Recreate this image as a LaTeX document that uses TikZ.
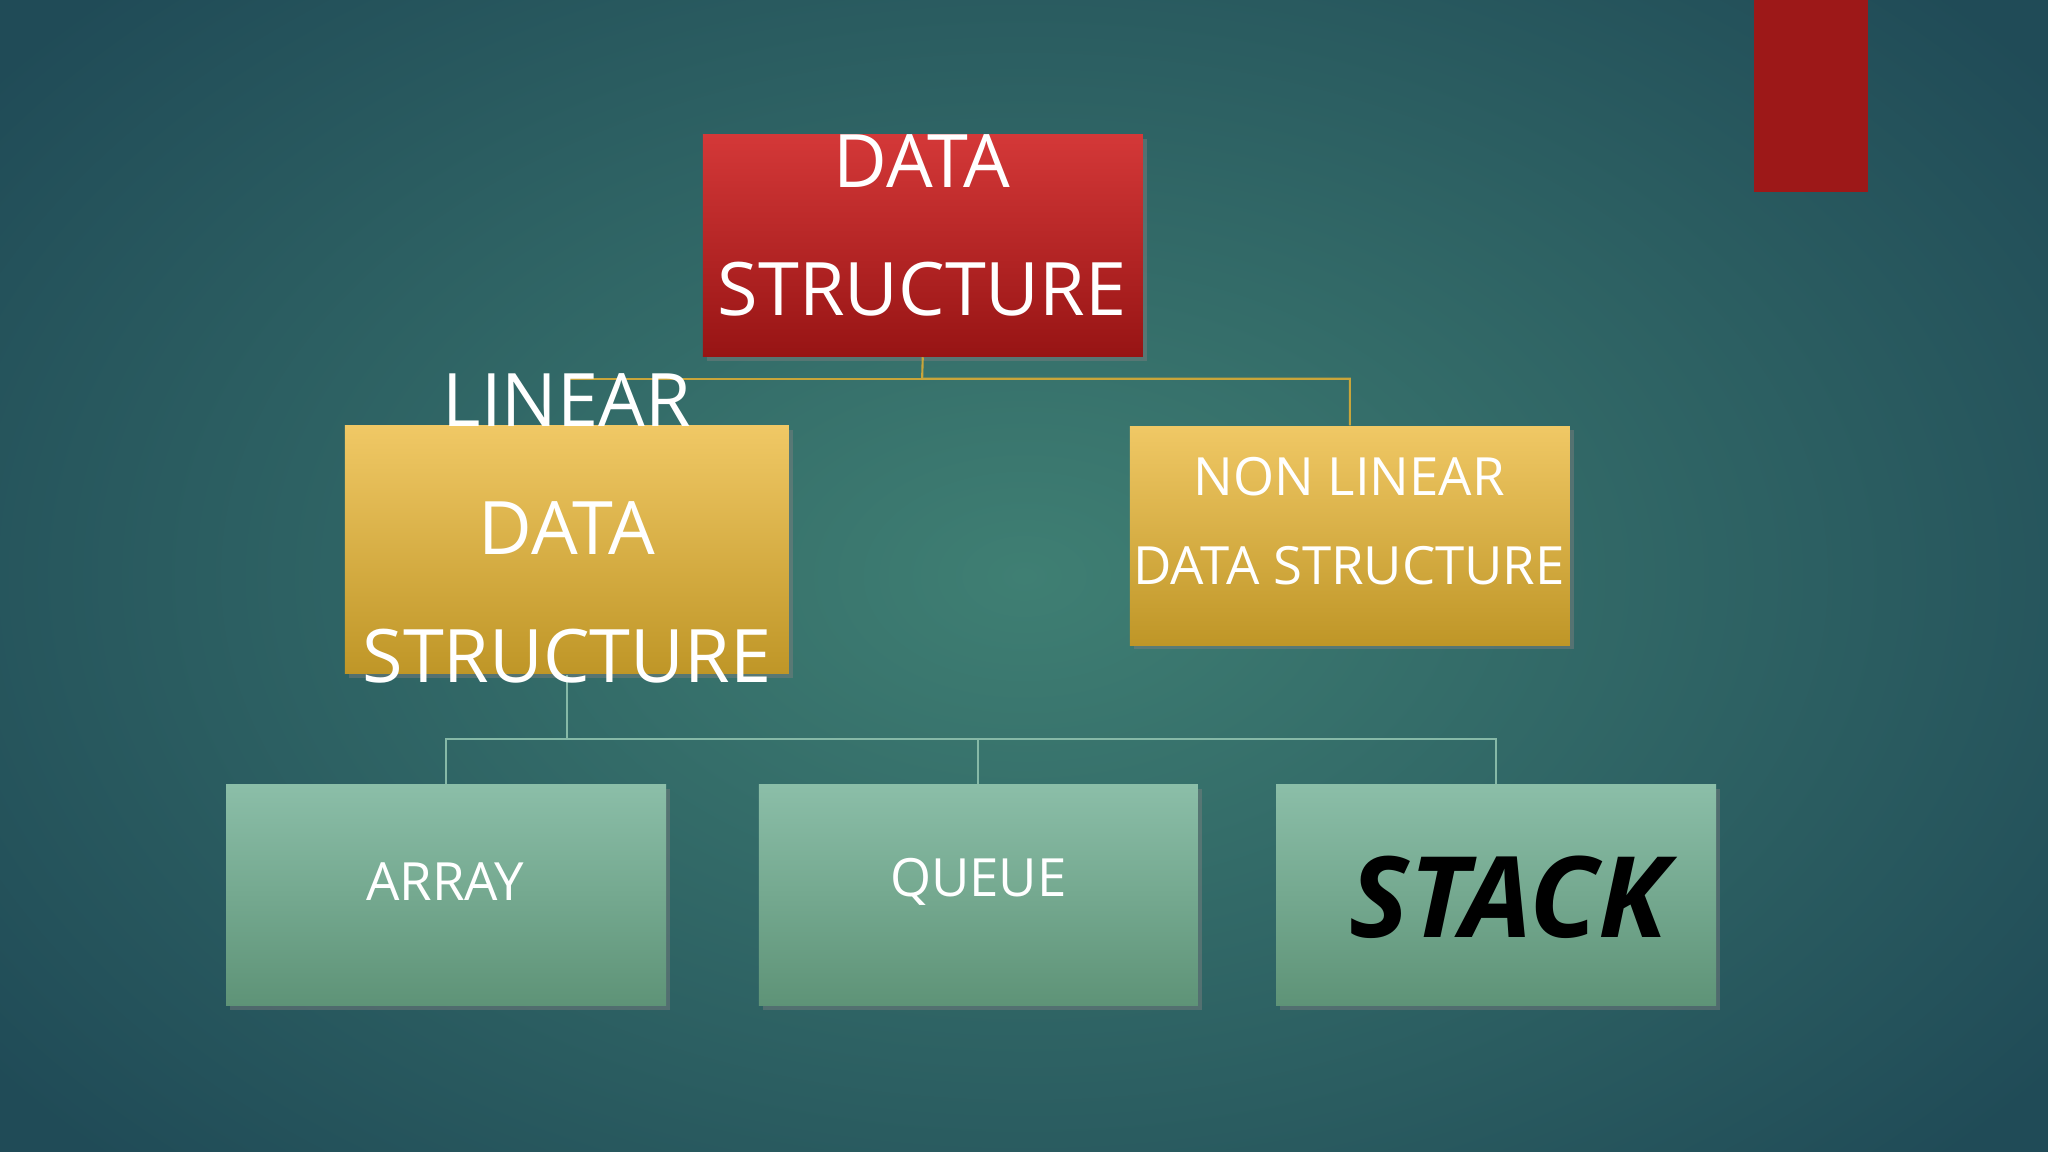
\documentclass[tikz,border=0pt]{standalone}
\usepackage{fontspec}
\setmainfont{Open Sans}
\usetikzlibrary{shadows}
\definecolor{bgin}{HTML}{3F7F73}
\definecolor{bgout}{HTML}{204B57}
\definecolor{redt}{HTML}{D43838}
\definecolor{redb}{HTML}{971414}
\definecolor{goldt}{HTML}{F0C865}
\definecolor{goldb}{HTML}{BF9627}
\definecolor{grnt}{HTML}{8BBEA8}
\definecolor{grnb}{HTML}{5E9377}
\definecolor{goldline}{HTML}{C9A53A}
\definecolor{grnline}{HTML}{86B9A7}
\tikzset{
  u/.style={x=0.01306cm,y=-0.01306cm},
  box/.style={draw=none,inner sep=0pt,drop shadow={shadow xshift=0.04cm,shadow yshift=-0.04cm,opacity=0.45}},
  redbox/.style={box,top color=redt,bottom color=redb},
  goldbox/.style={box,top color=goldt,bottom color=goldb},
  grnbox/.style={box,top color=grnt,bottom color=grnb},
  big/.style={text=white,font=\fontsize{21}{25}\selectfont,inner sep=0pt},
  mid/.style={text=white,font=\fontsize{15}{18}\selectfont,inner sep=0pt},
  goldcon/.style={draw=goldline,line width=0.6pt},
  grncon/.style={draw=grnline,line width=0.6pt}
}
\begin{document}
\begin{tikzpicture}[u]
\useasboundingbox (0,0) rectangle (1568,882);
\shade[inner color=bgin,outer color=bgout] (-200,-200) rectangle (1768,1082);
\fill[color=redb!90!redt] (1343,0) rectangle (1430,147);
% boxes
\node[redbox,minimum width=4.40cm,minimum height=2.22cm] (ds) at (706.5,188) {};
\node[goldbox,minimum width=4.44cm,minimum height=2.48cm] (lin) at (434,421) {};
\node[goldbox,minimum width=4.40cm,minimum height=2.19cm] (nl) at (1033.5,410) {};
\node[grnbox,minimum width=4.40cm,minimum height=2.21cm] (arr) at (341.5,685.5) {};
\node[grnbox,minimum width=4.39cm,minimum height=2.21cm] (que) at (749,685.5) {};
\node[grnbox,minimum width=4.40cm,minimum height=2.21cm] (stk) at (1145.5,685.5) {};
% connectors
\coordinate (j1) at (706,290);
\coordinate (j2) at (434,566);
\draw[goldcon] (ds.south) -- (j1) -| (nl.north);
\draw[goldcon] (j1) -| (434,300);
\draw[grncon] (lin.south) -- (j2) -| (arr.north);
\draw[grncon] (j2) -| (stk.north);
\draw[grncon] (que.north) -- (que.north |- j2);
% texts
\node[big] (t1) at (706,123) {DATA};
\node[big] (t2) at (706,221) {STRUCTURE};
\node[big] (t3) at (434,306) {LINEAR};
\node[big] (t4) at (434,404) {DATA};
\node[big] (t5) at (434,502) {STRUCTURE};
\node[mid] (t6) at (1033,365) {NON LINEAR};
\node[mid] (t7) at (1033,433) {DATA STRUCTURE};
\node[mid] (t8) at (341,675) {ARRAY};
\node[mid] (t9) at (749,675) {QUEUE};
\node[inner sep=0pt,text=black,font=\fontsize{32}{36}\selectfont\bfseries\itshape] (t10) at (1155,687) {STACK};
\end{tikzpicture}
\end{document}
